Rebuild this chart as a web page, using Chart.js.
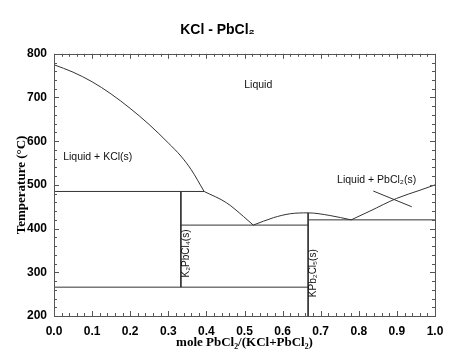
<!DOCTYPE html>
<html>
<head>
<meta charset="utf-8">
<script src="https://cdn.jsdelivr.net/npm/chart.js@4.4.1/dist/chart.umd.min.js"></script>
<style>
  html, body { margin: 0; padding: 0; background: #fff; }
  canvas { display: block; }
</style>
</head>
<body>
<canvas id="phase" width="474" height="362"></canvas>
<script>
// liquidus branches (mole fraction PbCl2, temperature in C)
const kclLiqX = [0, 0.05, 0.1, 0.15, 0.2, 0.25, 0.3, 0.333, 0.36, 0.394];
const kclLiqT = [775, 758, 736, 708, 675, 638, 596, 566, 535, 485];
const k2LiqX = [0.394, 0.453, 0.497, 0.523];
const k2LiqT = [485, 459, 428, 408];
const kpb2LiqX = [0.523, 0.576, 0.62, 0.667, 0.724, 0.78];
const kpb2LiqT = [408, 425, 434, 436, 430, 420];
const pbLiqX = [0.78, 0.829, 0.899, 0.961, 1.0];
const pbLiqT = [420, 440, 469, 488, 500];

// straight phase lines: [x1, T1, x2, T2]
const eutectic1 = [0, 485, 0.394, 485];
const k2Line = [0.333, 485, 0.333, 266];
const lowLine = [0, 266, 0.667, 266];
const eutectic2 = [0.333, 408, 0.667, 408];
const kpb2Line = [0.667, 436, 0.667, 200];
const eutectic3 = [0.667, 420, 1.0, 420];
const pointer = [0.838, 486, 0.939, 450];

// region labels
const regionText = ["Liquid", "Liquid + KCl(s)", "Liquid + PbCl₂(s)"];
const regionX = [0.536, 0.024, 0.743];
const regionT = [729, 563, 510];
const compoundText = ["K₂PbCl₄(s)", "KPb₂Cl₅(s)"];
const compoundX = [0.346, 0.68];
const compoundT = [343, 298];

const xTicks = [0, 0.1, 0.2, 0.3, 0.4, 0.5, 0.6, 0.7, 0.8, 0.9, 1.0];
const yTicks = [200, 300, 400, 500, 600, 700, 800];

const lineColor = "#333";

const toPts = (xs, ts) => xs.map((x, i) => ({ x: x, y: ts[i] }));
const seg = (s) => [{ x: s[0], y: s[1] }, { x: s[2], y: s[3] }];

const curve = (pts) => ({
  data: pts,
  showLine: true,
  borderColor: lineColor,
  borderWidth: 1,
  pointRadius: 0,
  cubicInterpolationMode: "monotone",
});
const straight = (pts) => ({
  data: pts,
  showLine: true,
  borderColor: lineColor,
  borderWidth: 1,
  pointRadius: 0,
  tension: 0,
});

const frameAndLabels = {
  id: "frameAndLabels",
  afterDatasetsDraw(chart) {
    const { ctx, chartArea: a, scales } = chart;
    const xs = scales.x;
    const ys = scales.y;
    ctx.save();
    ctx.strokeStyle = "#555";
    ctx.lineWidth = 1;
    ctx.strokeRect(Math.round(a.left) + 0.5, Math.round(a.top) + 0.5,
      Math.round(a.right - a.left), Math.round(a.bottom - a.top));

    // inward ticks on all four sides
    ctx.beginPath();
    for (let i = 0; i <= 50; i++) {
      const v = i / 50;
      const px = Math.round(xs.getPixelForValue(v)) + 0.5;
      const len = i % 5 === 0 ? 5 : 3;
      ctx.moveTo(px, a.bottom);
      ctx.lineTo(px, a.bottom - len);
      ctx.moveTo(px, a.top);
      ctx.lineTo(px, a.top + len);
    }
    for (let t = 200; t <= 800; t += 20) {
      const py = Math.round(ys.getPixelForValue(t)) + 0.5;
      const len = t % 100 === 0 ? 5 : 3;
      ctx.moveTo(a.left, py);
      ctx.lineTo(a.left + len, py);
      ctx.moveTo(a.right, py);
      ctx.lineTo(a.right - len, py);
    }
    ctx.stroke();

    ctx.fillStyle = "#111";
    ctx.font = "10.5px 'Liberation Sans', Arial, sans-serif";
    ctx.textBaseline = "middle";
    regionText.forEach((txt, i) => {
      ctx.textAlign = i === 0 ? "center" : "left";
      ctx.fillText(txt, xs.getPixelForValue(regionX[i]), ys.getPixelForValue(regionT[i]));
    });

    ctx.font = "10px 'Liberation Sans', Arial, sans-serif";
    ctx.textAlign = "center";
    compoundText.forEach((txt, i) => {
      ctx.save();
      ctx.translate(xs.getPixelForValue(compoundX[i]), ys.getPixelForValue(compoundT[i]));
      ctx.rotate(-Math.PI / 2);
      ctx.fillText(txt, 0, 0);
      ctx.restore();
    });
    ctx.restore();
  },
};

const tickFont = { family: "'Liberation Sans', Arial, sans-serif", size: 12, weight: "bold" };
const titleFont = { family: "'Liberation Serif', 'Times New Roman', serif", size: 13, weight: "bold" };

new Chart(document.getElementById("phase"), {
  type: "scatter",
  data: {
    datasets: [
      curve(toPts(kclLiqX, kclLiqT)),
      curve(toPts(k2LiqX, k2LiqT)),
      curve(toPts(kpb2LiqX, kpb2LiqT)),
      curve(toPts(pbLiqX, pbLiqT)),
      straight(seg(eutectic1)),
      straight(seg(k2Line)),
      straight(seg(lowLine)),
      straight(seg(eutectic2)),
      straight(seg(kpb2Line)),
      straight(seg(eutectic3)),
      straight(seg(pointer)),
    ],
  },
  options: {
    responsive: false,
    animation: false,
    layout: { padding: { left: 0, right: 39, top: 0, bottom: 0 } },
    plugins: {
      legend: { display: false },
      tooltip: { enabled: false },
      title: {
        display: true,
        text: "KCl - PbCl₂",
        color: "#000",
        font: { family: "'Liberation Sans', Arial, sans-serif", size: 14, weight: "bold" },
        padding: { top: 22, bottom: 15 },
      },
    },
    scales: {
      x: {
        type: "linear",
        min: 0,
        max: 1,
        afterBuildTicks: (s) => { s.ticks = xTicks.map((v) => ({ value: v })); },
        afterFit: (s) => { s.height = 46; },
        grid: { display: false, drawTicks: false },
        border: { display: false },
        ticks: {
          autoSkip: false,
          maxRotation: 0,
          padding: 8,
          color: "#000",
          font: tickFont,
          callback: (v) => Number(v).toFixed(1),
        },
        title: {
          display: true,
          text: "mole PbCl₂/(KCl+PbCl₂)",
          color: "#000",
          font: titleFont,
          padding: { top: 0, bottom: 12 },
        },
      },
      y: {
        type: "linear",
        min: 200,
        max: 800,
        afterBuildTicks: (s) => { s.ticks = yTicks.map((v) => ({ value: v })); },
        afterFit: (s) => { s.width = 54; },
        grid: { display: false, drawTicks: false },
        border: { display: false },
        ticks: {
          padding: 7,
          color: "#000",
          font: tickFont,
        },
        title: {
          display: true,
          text: "Temperature (°C)",
          color: "#000",
          font: titleFont,
          padding: { top: 14, bottom: 0 },
        },
      },
    },
  },
  plugins: [frameAndLabels],
});
</script>
</body>
</html>
